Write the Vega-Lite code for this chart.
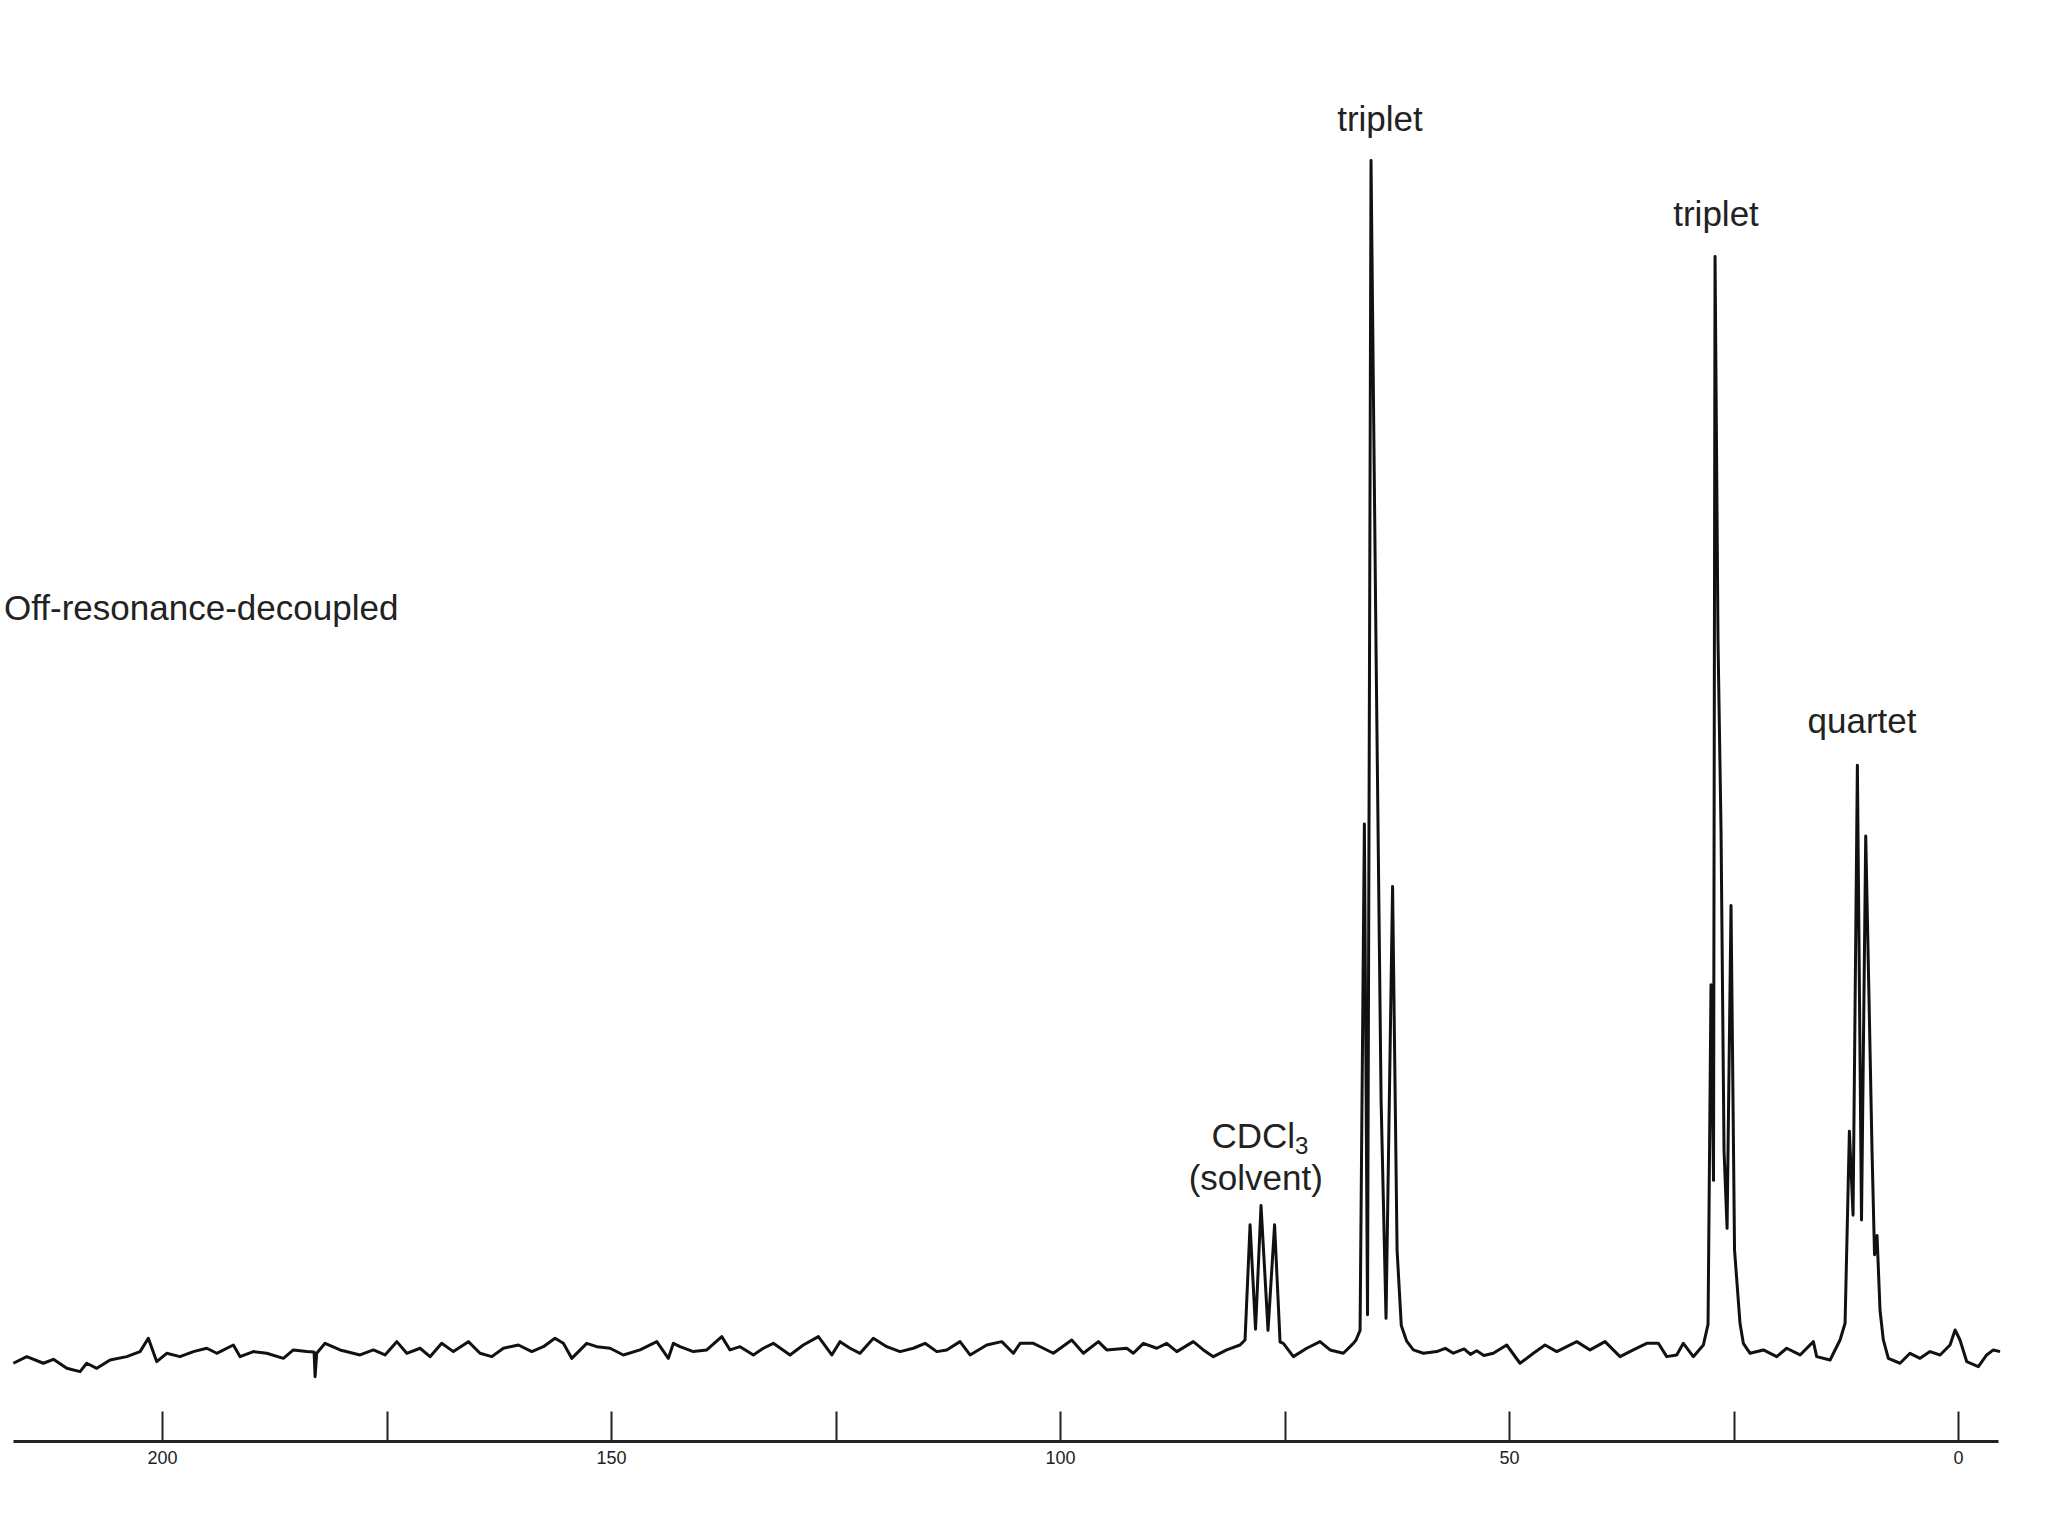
{
  "$schema": "https://vega.github.io/schema/vega-lite/v6.json",
  "width": 1985,
  "height": 1441,
  "autosize": "none",
  "padding": {"left": 13, "top": 0, "right": 50, "bottom": 95},
  "background": "white",
  "config": {"view": {"stroke": null}},
  "datasets": {
    "spectrum": [
      {"ppm": 216.56, "intensity": -0.94}, {"ppm": 215.07, "intensity": -0.39}, {"ppm": 213.22, "intensity": -0.94},
      {"ppm": 212.10, "intensity": -0.61}, {"ppm": 210.61, "intensity": -1.36}, {"ppm": 209.13, "intensity": -1.64},
      {"ppm": 208.39, "intensity": -0.94}, {"ppm": 207.27, "intensity": -1.36}, {"ppm": 205.79, "intensity": -0.67},
      {"ppm": 203.93, "intensity": -0.39}, {"ppm": 202.45, "intensity": 0.03}, {"ppm": 201.53, "intensity": 1.14},
      {"ppm": 200.59, "intensity": -0.81}, {"ppm": 199.48, "intensity": -0.11}, {"ppm": 198.00, "intensity": -0.39},
      {"ppm": 196.51, "intensity": 0.03}, {"ppm": 195.02, "intensity": 0.31}, {"ppm": 193.91, "intensity": -0.11},
      {"ppm": 192.06, "intensity": 0.58}, {"ppm": 191.31, "intensity": -0.39}, {"ppm": 189.83, "intensity": 0.03},
      {"ppm": 188.34, "intensity": -0.11}, {"ppm": 186.49, "intensity": -0.53}, {"ppm": 185.38, "intensity": 0.17},
      {"ppm": 183.89, "intensity": 0.03}, {"ppm": 183.07, "intensity": 0.0}, {"ppm": 182.96, "intensity": -2.06},
      {"ppm": 182.78, "intensity": -0.11}, {"ppm": 181.85, "intensity": 0.72}, {"ppm": 180.18, "intensity": 0.17},
      {"ppm": 177.95, "intensity": -0.25}, {"ppm": 176.47, "intensity": 0.17}, {"ppm": 175.17, "intensity": -0.25},
      {"ppm": 173.86, "intensity": 0.86}, {"ppm": 172.75, "intensity": -0.11}, {"ppm": 171.27, "intensity": 0.31},
      {"ppm": 170.16, "intensity": -0.39}, {"ppm": 168.86, "intensity": 0.72}, {"ppm": 167.56, "intensity": 0.03},
      {"ppm": 165.89, "intensity": 0.86}, {"ppm": 164.59, "intensity": -0.11}, {"ppm": 163.28, "intensity": -0.39},
      {"ppm": 161.99, "intensity": 0.31}, {"ppm": 160.32, "intensity": 0.58}, {"ppm": 158.83, "intensity": 0.03},
      {"ppm": 157.54, "intensity": 0.44}, {"ppm": 156.24, "intensity": 1.14}, {"ppm": 155.31, "intensity": 0.72},
      {"ppm": 154.38, "intensity": -0.53}, {"ppm": 152.71, "intensity": 0.72}, {"ppm": 151.59, "intensity": 0.44},
      {"ppm": 150.11, "intensity": 0.31}, {"ppm": 148.63, "intensity": -0.25}, {"ppm": 146.77, "intensity": 0.17},
      {"ppm": 144.91, "intensity": 0.86}, {"ppm": 143.62, "intensity": -0.53}, {"ppm": 143.06, "intensity": 0.72},
      {"ppm": 142.32, "intensity": 0.44}, {"ppm": 140.84, "intensity": 0.03}, {"ppm": 139.34, "intensity": 0.17},
      {"ppm": 137.67, "intensity": 1.28}, {"ppm": 136.75, "intensity": 0.17}, {"ppm": 135.63, "intensity": 0.44},
      {"ppm": 134.15, "intensity": -0.25}, {"ppm": 133.04, "intensity": 0.31}, {"ppm": 131.93, "intensity": 0.72},
      {"ppm": 130.07, "intensity": -0.25}, {"ppm": 128.59, "intensity": 0.58}, {"ppm": 126.91, "intensity": 1.28},
      {"ppm": 125.42, "intensity": -0.25}, {"ppm": 124.50, "intensity": 0.86}, {"ppm": 123.39, "intensity": 0.31},
      {"ppm": 122.27, "intensity": -0.11}, {"ppm": 120.79, "intensity": 1.14}, {"ppm": 119.30, "intensity": 0.44},
      {"ppm": 117.82, "intensity": 0.03}, {"ppm": 116.34, "intensity": 0.31}, {"ppm": 115.03, "intensity": 0.72},
      {"ppm": 113.73, "intensity": 0.03}, {"ppm": 112.62, "intensity": 0.17}, {"ppm": 111.14, "intensity": 0.86},
      {"ppm": 110.02, "intensity": -0.25}, {"ppm": 108.16, "intensity": 0.58}, {"ppm": 106.49, "intensity": 0.86},
      {"ppm": 105.20, "intensity": -0.11}, {"ppm": 104.45, "intensity": 0.72}, {"ppm": 102.97, "intensity": 0.72},
      {"ppm": 101.86, "intensity": 0.31}, {"ppm": 100.75, "intensity": -0.11}, {"ppm": 98.70, "intensity": 1.0},
      {"ppm": 97.40, "intensity": -0.11}, {"ppm": 95.73, "intensity": 0.86}, {"ppm": 94.80, "intensity": 0.17},
      {"ppm": 92.57, "intensity": 0.31}, {"ppm": 91.84, "intensity": -0.11}, {"ppm": 90.72, "intensity": 0.72},
      {"ppm": 89.23, "intensity": 0.31}, {"ppm": 88.12, "intensity": 0.72}, {"ppm": 87.00, "intensity": 0.03},
      {"ppm": 85.16, "intensity": 0.86}, {"ppm": 84.04, "intensity": 0.17}, {"ppm": 82.93, "intensity": -0.39},
      {"ppm": 81.44, "intensity": 0.17}, {"ppm": 79.96, "intensity": 0.58}, {"ppm": 79.40, "intensity": 1.0},
      {"ppm": 78.84, "intensity": 10.6}, {"ppm": 78.23, "intensity": 1.9}, {"ppm": 77.62, "intensity": 12.2},
      {"ppm": 76.84, "intensity": 1.8}, {"ppm": 76.11, "intensity": 10.6}, {"ppm": 75.50, "intensity": 0.83},
      {"ppm": 75.13, "intensity": 0.72}, {"ppm": 74.02, "intensity": -0.39}, {"ppm": 72.53, "intensity": 0.31},
      {"ppm": 71.05, "intensity": 0.86}, {"ppm": 69.93, "intensity": 0.17}, {"ppm": 68.45, "intensity": -0.11},
      {"ppm": 67.34, "intensity": 0.72}, {"ppm": 67.04, "intensity": 1.0}, {"ppm": 66.59, "intensity": 1.8},
      {"ppm": 66.11, "intensity": 44.0}, {"ppm": 65.76, "intensity": 3.1}, {"ppm": 65.37, "intensity": 99.3},
      {"ppm": 64.81, "intensity": 58.5}, {"ppm": 64.25, "intensity": 21.0}, {"ppm": 63.70, "intensity": 2.8},
      {"ppm": 62.97, "intensity": 38.8}, {"ppm": 62.47, "intensity": 8.5}, {"ppm": 62.0, "intensity": 2.2},
      {"ppm": 61.4, "intensity": 0.9},
      {"ppm": 60.66, "intensity": 0.17}, {"ppm": 59.54, "intensity": -0.11}, {"ppm": 58.05, "intensity": 0.03},
      {"ppm": 57.1, "intensity": 0.3}, {"ppm": 56.20, "intensity": -0.1}, {"ppm": 55.0, "intensity": 0.25},
      {"ppm": 54.3, "intensity": -0.2}, {"ppm": 53.60, "intensity": 0.1}, {"ppm": 52.8, "intensity": -0.3},
      {"ppm": 51.75, "intensity": -0.11},
      {"ppm": 50.26, "intensity": 0.58}, {"ppm": 48.78, "intensity": -0.94}, {"ppm": 47.29, "intensity": -0.11},
      {"ppm": 45.99, "intensity": 0.58}, {"ppm": 44.69, "intensity": 0.03}, {"ppm": 42.46, "intensity": 0.86},
      {"ppm": 40.98, "intensity": 0.17}, {"ppm": 39.31, "intensity": 0.86}, {"ppm": 37.64, "intensity": -0.39},
      {"ppm": 36.16, "intensity": 0.17}, {"ppm": 34.67, "intensity": 0.72}, {"ppm": 33.37, "intensity": 0.72},
      {"ppm": 32.44, "intensity": -0.39}, {"ppm": 31.33, "intensity": -0.25}, {"ppm": 30.59, "intensity": 0.72},
      {"ppm": 29.48, "intensity": -0.39}, {"ppm": 28.36, "intensity": 0.58}, {"ppm": 27.84, "intensity": 2.3},
      {"ppm": 27.51, "intensity": 30.6}, {"ppm": 27.23, "intensity": 14.3}, {"ppm": 27.06, "intensity": 91.3},
      {"ppm": 26.73, "intensity": 59.3}, {"ppm": 26.39, "intensity": 43.3}, {"ppm": 26.06, "intensity": 16.8},
      {"ppm": 25.72, "intensity": 10.3}, {"ppm": 25.28, "intensity": 37.2}, {"ppm": 24.89, "intensity": 8.5},
      {"ppm": 24.28, "intensity": 2.39}, {"ppm": 23.91, "intensity": 0.72}, {"ppm": 23.16, "intensity": -0.11},
      {"ppm": 21.68, "intensity": 0.17}, {"ppm": 20.19, "intensity": -0.39}, {"ppm": 19.08, "intensity": 0.31},
      {"ppm": 17.59, "intensity": -0.25}, {"ppm": 16.11, "intensity": 0.86}, {"ppm": 15.74, "intensity": -0.39},
      {"ppm": 14.25, "intensity": -0.67}, {"ppm": 13.14, "intensity": 1.0}, {"ppm": 12.58, "intensity": 2.39},
      {"ppm": 12.10, "intensity": 18.4}, {"ppm": 11.69, "intensity": 11.4}, {"ppm": 11.21, "intensity": 48.9},
      {"ppm": 10.75, "intensity": 11.0}, {"ppm": 10.28, "intensity": 43.0}, {"ppm": 9.91, "intensity": 29.3},
      {"ppm": 9.58, "intensity": 16.8}, {"ppm": 9.30, "intensity": 8.1}, {"ppm": 9.02, "intensity": 9.7},
      {"ppm": 8.69, "intensity": 3.5}, {"ppm": 8.32, "intensity": 1.0}, {"ppm": 7.76, "intensity": -0.53},
      {"ppm": 6.46, "intensity": -0.94}, {"ppm": 5.35, "intensity": -0.11}, {"ppm": 4.23, "intensity": -0.53},
      {"ppm": 3.12, "intensity": 0.03}, {"ppm": 2.00, "intensity": -0.25}, {"ppm": 0.89, "intensity": 0.58},
      {"ppm": 0.33, "intensity": 1.83}, {"ppm": -0.22, "intensity": 1.0}, {"ppm": -0.97, "intensity": -0.81},
      {"ppm": -2.26, "intensity": -1.22}, {"ppm": -3.19, "intensity": -0.25}, {"ppm": -3.93, "intensity": 0.17},
      {"ppm": -4.68, "intensity": 0.03}
    ],
    "labels": [
      {"text": "triplet", "ppm": 64.37, "intensity": 102.67},
      {"text": "triplet", "ppm": 26.95, "intensity": 94.75},
      {"text": "quartet", "ppm": 10.69, "intensity": 52.5},
      {"text": "(solvent)", "ppm": 78.2, "intensity": 14.4}
    ],
    "cdcl": [{"text": "CDCl", "ppm": 73.83, "intensity": 17.94}],
    "sub": [{"text": "3", "ppm": 73.83, "intensity": 17.08}],
    "side": [{"text": "Off-resonance-decoupled", "ppm": 217.6, "intensity": 61.9}]
  },
  "layer": [
    {
      "data": {"name": "spectrum"},
      "mark": {"type": "line", "color": "#111111", "strokeWidth": 3, "strokeJoin": "round"},
      "encoding": {
        "x": {
          "field": "ppm", "type": "quantitative",
          "scale": {"domain": [216.6, -4.45], "nice": false, "zero": false},
          "axis": {
            "values": [0, 25, 50, 75, 100, 125, 150, 175, 200],
            "labelExpr": "datum.value % 50 == 0 ? datum.label : ''",
            "title": null, "grid": false,
            "domainColor": "#222222", "domainWidth": 3,
            "tickColor": "#222222", "tickWidth": 2, "tickSize": -30,
            "labelFont": "Liberation Sans", "labelFontSize": 18, "labelColor": "#222222",
            "labelPadding": 38, "labelFlush": false
          }
        },
        "y": {
          "field": "intensity", "type": "quantitative",
          "scale": {"domain": [-7.42, 112.67], "nice": false, "zero": false},
          "axis": null
        }
      }
    },
    {
      "data": {"name": "labels"},
      "mark": {"type": "text", "font": "Liberation Sans", "fontSize": 35, "color": "#222222", "align": "center", "baseline": "middle"},
      "encoding": {
        "x": {"field": "ppm", "type": "quantitative", "scale": {"domain": [216.6, -4.45], "nice": false, "zero": false}},
        "y": {"field": "intensity", "type": "quantitative", "scale": {"domain": [-7.42, 112.67], "nice": false, "zero": false}},
        "text": {"field": "text"}
      }
    },
    {
      "data": {"name": "cdcl"},
      "mark": {"type": "text", "font": "Liberation Sans", "fontSize": 35, "color": "#222222", "align": "right", "baseline": "middle"},
      "encoding": {
        "x": {"field": "ppm", "type": "quantitative", "scale": {"domain": [216.6, -4.45], "nice": false, "zero": false}},
        "y": {"field": "intensity", "type": "quantitative", "scale": {"domain": [-7.42, 112.67], "nice": false, "zero": false}},
        "text": {"field": "text"}
      }
    },
    {
      "data": {"name": "sub"},
      "mark": {"type": "text", "font": "Liberation Sans", "fontSize": 24, "color": "#222222", "align": "left", "baseline": "middle"},
      "encoding": {
        "x": {"field": "ppm", "type": "quantitative", "scale": {"domain": [216.6, -4.45], "nice": false, "zero": false}},
        "y": {"field": "intensity", "type": "quantitative", "scale": {"domain": [-7.42, 112.67], "nice": false, "zero": false}},
        "text": {"field": "text"}
      }
    },
    {
      "data": {"name": "side"},
      "mark": {"type": "text", "font": "Liberation Sans", "fontSize": 35, "color": "#222222", "align": "left", "baseline": "middle"},
      "encoding": {
        "x": {"field": "ppm", "type": "quantitative", "scale": {"domain": [216.6, -4.45], "nice": false, "zero": false}},
        "y": {"field": "intensity", "type": "quantitative", "scale": {"domain": [-7.42, 112.67], "nice": false, "zero": false}},
        "text": {"field": "text"}
      }
    }
  ]
}
